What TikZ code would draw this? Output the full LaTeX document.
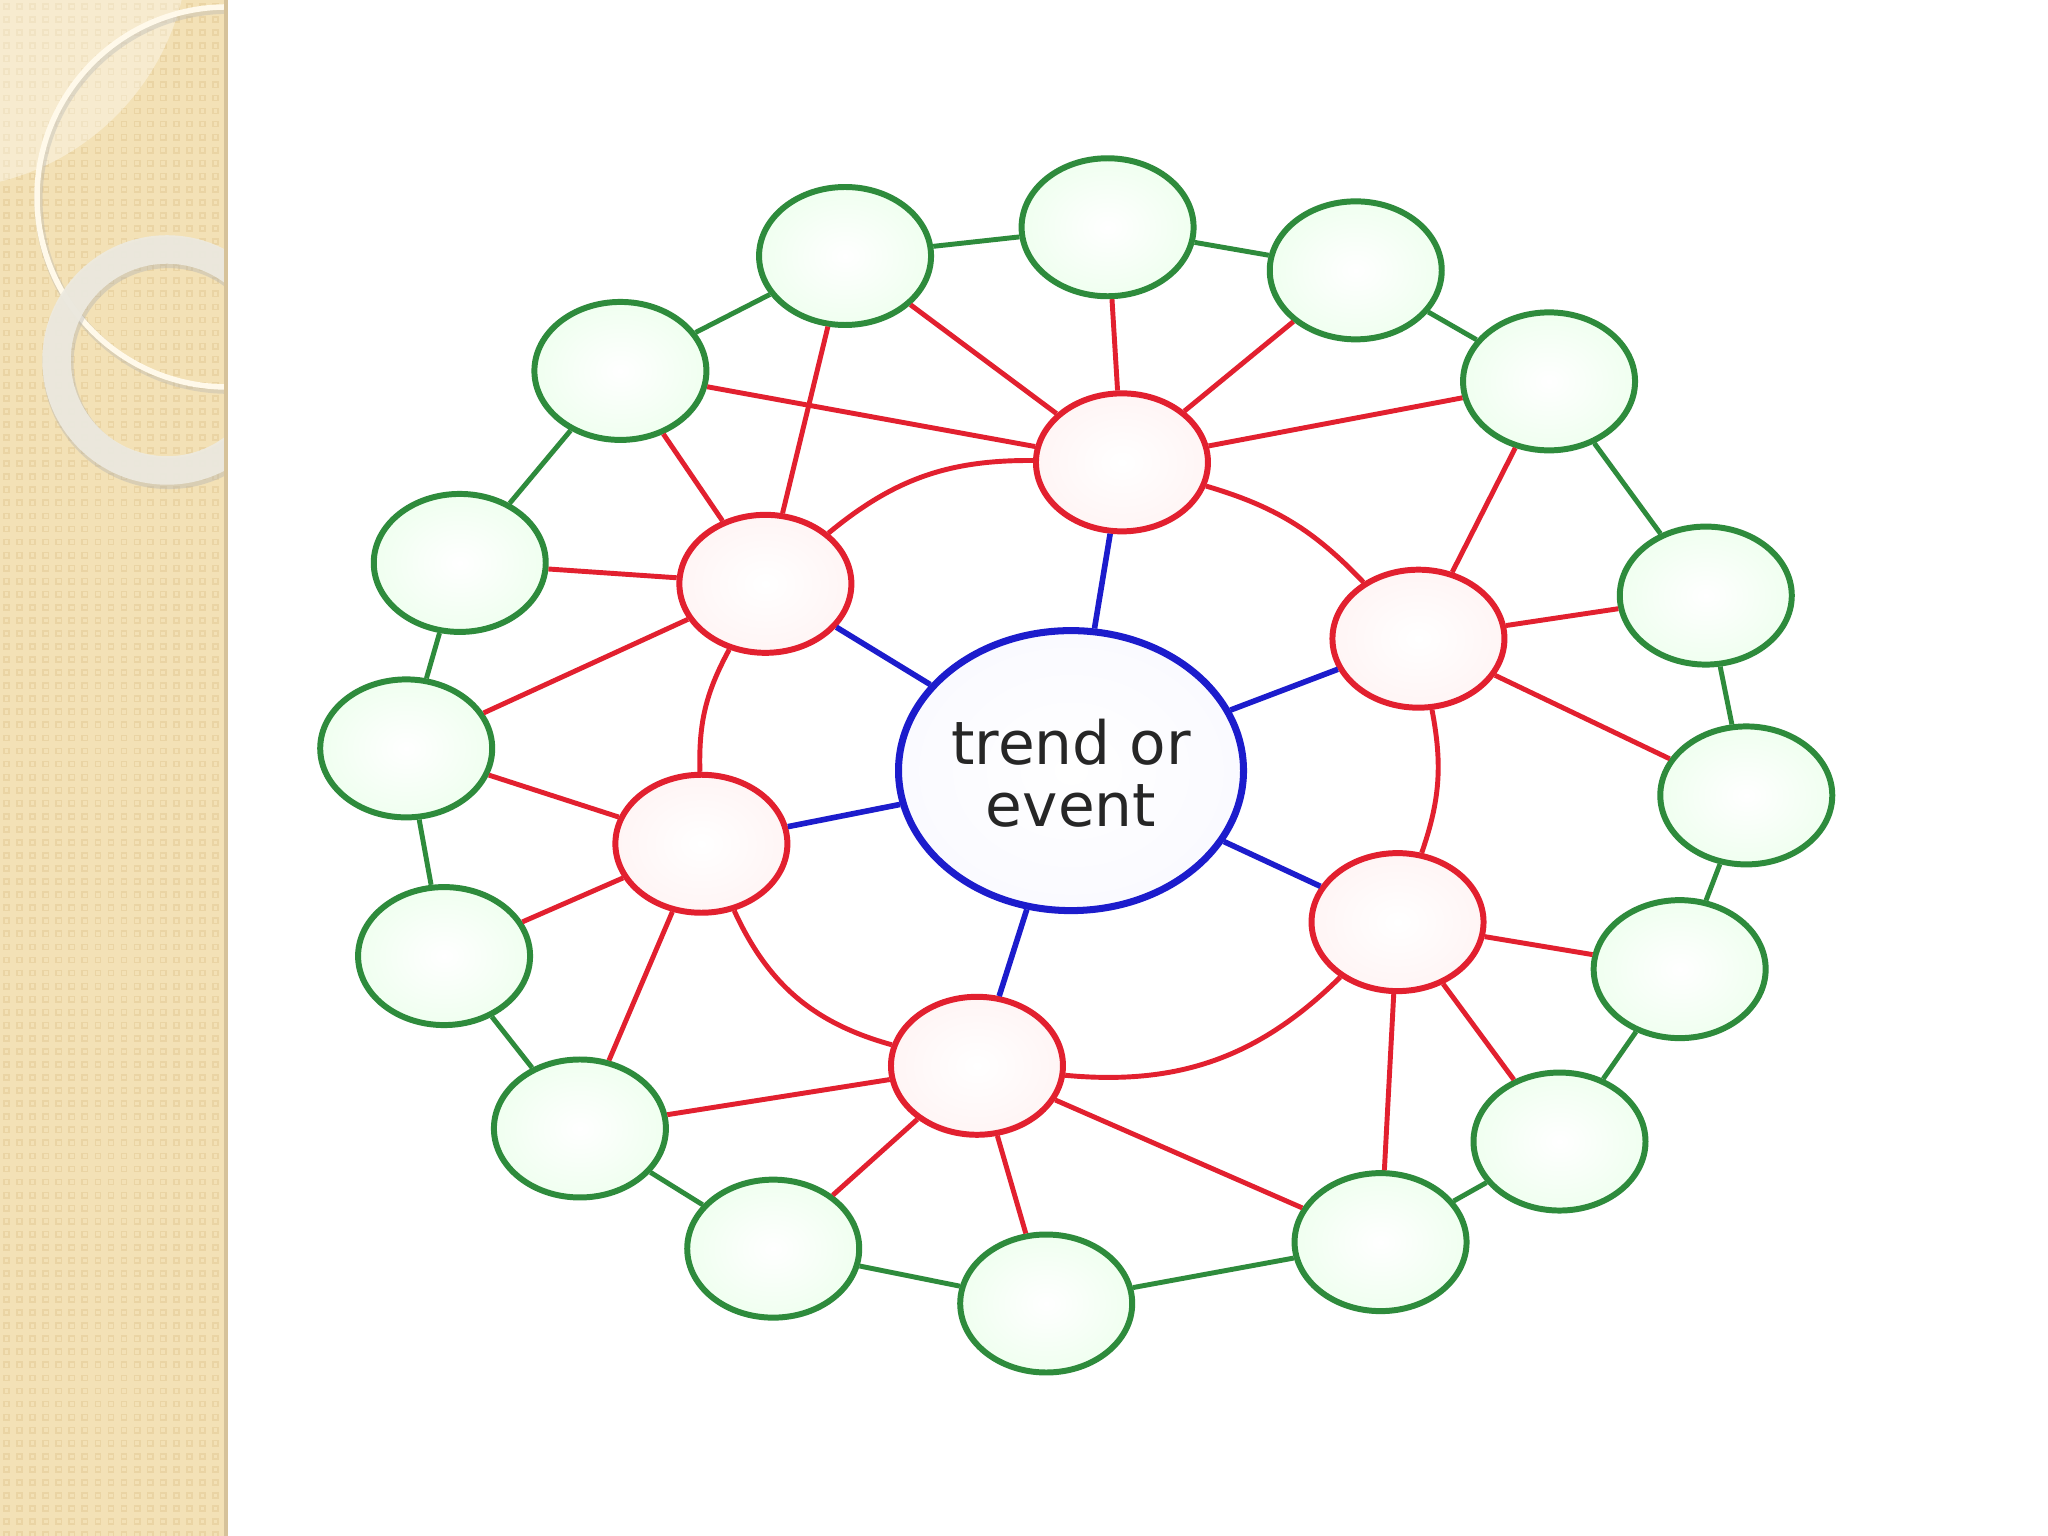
\documentclass[tikz,border=0pt]{standalone}
\usepackage{fontspec}
\setmainfont{DejaVu Sans}
\usepackage{xcolor}
\usepackage{tikz}
\usetikzlibrary{shapes.geometric}
\definecolor{strip}{HTML}{F3E1B6}
\definecolor{stripdot}{HTML}{EAD4A4}
\definecolor{stripedge}{HTML}{D6C29A}
\definecolor{ringw}{HTML}{FFF9EA}
\definecolor{bandw}{HTML}{EDEAE0}
\definecolor{gnet}{HTML}{2E8B3C}
\definecolor{rnet}{HTML}{E2202F}
\definecolor{bnet}{HTML}{1C1CCC}
\definecolor{ink}{HTML}{262626}
\tikzset{
  outernode/.style={ellipse, draw=gnet, line width=1.7pt, minimum width=1.72cm, minimum height=1.38cm, inner color=white, outer color=green!6},
  innernode/.style={ellipse, draw=rnet, line width=1.7pt, minimum width=1.72cm, minimum height=1.38cm, inner color=white, outer color=red!4},
  corenode/.style={ellipse, draw=bnet, line width=2pt, minimum width=3.45cm, minimum height=2.8cm, inner color=white, outer color=blue!2},
  ringlink/.style={draw=gnet, line width=1.4pt},
  spoke/.style={draw=rnet, line width=1.4pt},
  corelink/.style={draw=bnet, line width=1.6pt},
  lab/.style={text=ink, font=\fontsize{17}{17.5}\selectfont, align=center},
}
\begin{document}
\begin{tikzpicture}[x=0.01306cm, y=-0.01306cm]
  \useasboundingbox (0,0) rectangle (1568,1176);
  \fill[white] (0,0) rectangle (1568,1176);
  \fill[strip] (0,0) rectangle (174,1176);
  \draw[stripdot, line width=0.45pt] \foreach \i in {0,...,16} {\foreach \j in {0,...,117} {(\i*10+3,\j*10+3) rectangle ++(4,4)}};
  \begin{scope}
    \clip (0,0) rectangle (174,1176);
    \fill[white, opacity=0.35] (-46,-46) circle (2.49cm);
    \draw[black!30, opacity=0.35, line width=0.08cm] (175,153) circle (1.90cm);
    \draw[ringw, line width=0.055cm] (173.8,150.8) circle (1.90cm);
    \draw[black!30, opacity=0.4, line width=0.31cm] (129,278) circle (1.105cm);
    \draw[bandw, opacity=0.92, line width=0.285cm] (127.9,275.6) circle (1.105cm);
  \end{scope}
  \draw[stripedge, line width=1.2pt] (173,0) -- (173,1176);

  \node[corenode] (core) at (820,590) {};
  \node[lab] at (820,592) {trend or\\event};

  \node[innernode] (r1) at (859,354) {};
  \node[innernode] (r2) at (586,447) {};
  \node[innernode] (r3) at (1086,489) {};
  \node[innernode] (r4) at (537,646) {};
  \node[innernode] (r5) at (1070,706) {};
  \node[innernode] (r6) at (748,816) {};

  \node[outernode] (g1) at (647,196) {};
  \node[outernode] (g2) at (848,174) {};
  \node[outernode] (g3) at (1038,207) {};
  \node[outernode] (g4) at (1186,292) {};
  \node[outernode] (g5) at (1306,456) {};
  \node[outernode] (g6) at (1337,609) {};
  \node[outernode] (g7) at (1286,742) {};
  \node[outernode] (g8) at (1194,874) {};
  \node[outernode] (g9) at (1057,951) {};
  \node[outernode] (g10) at (801,998) {};
  \node[outernode] (g11) at (592,956) {};
  \node[outernode] (g12) at (444,864) {};
  \node[outernode] (g13) at (340,732) {};
  \node[outernode] (g14) at (311,573) {};
  \node[outernode] (g15) at (352,431) {};
  \node[outernode] (g16) at (475,284) {};

  \foreach \a/\b in {g1/g2, g2/g3, g3/g4, g4/g5, g5/g6, g6/g7, g7/g8, g8/g9, g9/g10, g10/g11, g11/g12, g12/g13, g13/g14, g14/g15, g15/g16, g16/g1}
    \draw[ringlink] (\a) -- (\b);
  \foreach \a/\b in {r1/g1, r1/g2, r1/g3, r1/g4, r1/g16, r2/g1, r2/g16, r2/g15, r2/g14, r3/g4, r3/g5, r3/g6, r4/g14, r4/g13, r4/g12, r5/g7, r5/g8, r5/g9, r6/g12, r6/g11, r6/g10, r6/g9}
    \draw[spoke] (\a) -- (\b);
  \draw[spoke] (r1) to[bend left=15] (r3);
  \draw[spoke] (r3) to[bend left=15] (r5);
  \draw[spoke] (r5) to[bend left=25] (r6);
  \draw[spoke] (r6) to[bend left=25] (r4);
  \draw[spoke] (r4) to[bend left=15] (r2);
  \draw[spoke] (r2) to[bend left=20] (r1);
  \foreach \r in {r1,r2,r3,r4,r5,r6}
    \draw[corelink] (core) -- (\r);
\end{tikzpicture}
\end{document}
